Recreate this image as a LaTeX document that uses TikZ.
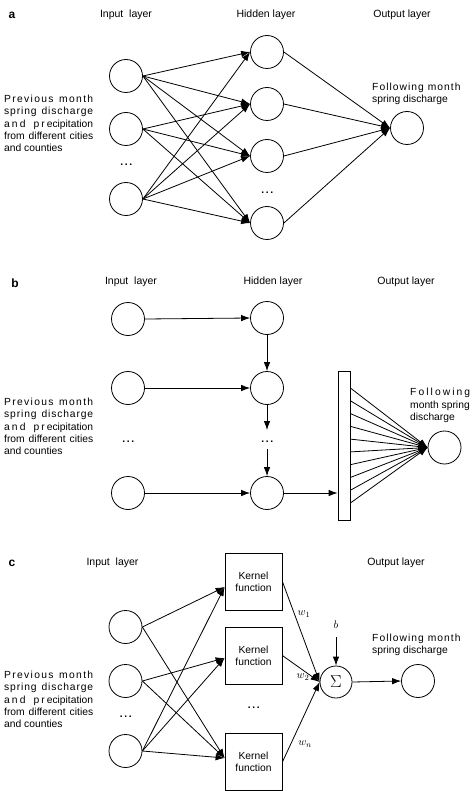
\documentclass[tikz,border=0pt]{standalone}
\usepackage{fontspec}
\setmainfont{Liberation Sans}
\usetikzlibrary{arrows.meta,calc}
\newcommand{\prevtxt}{%
 \makebox[89pt][s]{\addfontfeature{LetterSpace=13}Previous month}\\
 \makebox[89pt][s]{\addfontfeature{LetterSpace=8.5}spring discharge}\\
 \makebox[89pt][s]{{\addfontfeature{LetterSpace=20}and pre}cipitation}\\
 \makebox[89pt][s]{from different cities}\\
 and counties}
\newcommand{\mydots}{\hspace*{0.8pt}{\addfontfeature{LetterSpace=16}...}}
\begin{document}
\begin{tikzpicture}[x=1pt,y=-1pt,
  neuron/.style={circle,draw,line width=0.8pt,minimum size=33pt,inner sep=0pt},
  kbox/.style={draw,line width=0.8pt,minimum width=57pt,minimum height=57pt,inner sep=0pt,align=center,font=\fontsize{10.3}{12}\selectfont},
  conn/.style={line width=0.8pt,-{Latex[length=9pt,width=6.5pt]}},
  lbl/.style={font=\fontsize{10.5}{12.3}\selectfont,inner sep=0pt},
  txt/.style={font=\fontsize{10.3}{12.3}\selectfont,inner sep=0pt,align=left,anchor=north west},
  panel/.style={font=\bfseries\fontsize{12}{12}\selectfont,inner sep=0pt},
  dots/.style={font=\bfseries\fontsize{10.3}{12}\selectfont,inner sep=0pt}
]
\useasboundingbox (0,0) rectangle (474,791);

% ---------------- panel a ----------------
\node[panel] (la) at (12,15) {a};
\node[lbl] (ia) at (126,15) {Input\ \ layer};
\node[lbl] (ha) at (266,15) {Hidden layer};
\node[lbl] (oa) at (402,15) {Output layer};
\node[txt] (pa) at (4,95) {\prevtxt};
\node[txt] (fa) at (372,83) {{\addfontfeature{LetterSpace=10}Following month}\\spring discharge};
\node[neuron] (a1) at (126,76) {};
\node[neuron] (a2) at (126,129) {};
\node[neuron] (a3) at (126,199) {};
\node[dots] (ad) at (126,165) {\mydots};
\node[neuron] (ah1) at (267,52) {};
\node[neuron] (ah2) at (267,104) {};
\node[neuron] (ah3) at (267,156) {};
\node[neuron] (ah4) at (267,223) {};
\node[dots] (ahd) at (267,193) {\mydots};
\node[neuron] (ao) at (407,128) {};
\foreach \j in {ah1,ah2,ah3,ah4} {
  \draw[conn] (a1.east) -- (\j.west);
  \draw[conn] (a3.east) -- (\j.west);
  \draw[conn] (\j.east) -- (ao.west);
}
\foreach \j in {ah2,ah3,ah4} \draw[conn] (a2.east) -- (\j.west);

% ---------------- panel b ----------------
\node[panel] (lb) at (15,283) {b};
\node[lbl] (ib) at (131,282) {Input\ \ layer};
\node[lbl] (hb) at (273,282) {Hidden layer};
\node[lbl] (ob) at (406,282) {Output layer};
\node[txt] (pb) at (4,398) {\prevtxt};
\node[txt] (fb) at (410,388) {{\addfontfeature{LetterSpace=20}Following}\\[0.6pt]month spring\\discharge};
\node[neuron] (b1) at (128,319) {};
\node[neuron] (b2) at (128,388) {};
\node[neuron] (b3) at (128,493) {};
\node[dots] (bd) at (128,442) {\mydots};
\node[neuron] (bh1) at (267,318) {};
\node[neuron] (bh2) at (267,388) {};
\node[neuron] (bh4) at (267,493) {};
\node[dots] (bhd) at (267,442) {\mydots};
\node[draw,line width=0.8pt,minimum width=12pt,minimum height=149pt,inner sep=0pt] (bar) at (344,445.5) {};
\node[neuron] (bo) at (444.5,447.5) {};
\draw[conn] (b1.east) -- (bh1.west);
\draw[conn] (b2.east) -- (bh2.west);
\draw[conn] (b3.east) -- (bh4.west);
\draw[conn] (bh1.south) -- (bh2.north);
\draw[conn] (bh2.south) -- ($(bhd.center)+(0,-12)$);
\draw[conn] ($(bhd.center)+(0,7)$) -- (bh4.north);
\draw[conn] (bh4.east) -- (bh4.east -| bar.west);
\foreach \k in {0,...,9} \draw[conn] ($(bar.east)+(0,{-57.5+\k*12.78})$) -- (bo.west);

% ---------------- panel c ----------------
\node[panel] (lc) at (12,563) {c};
\node[lbl] (ic) at (112.5,563) {Input\ \ layer};
\node[lbl] (oc) at (396,563) {Output layer};
\node[txt] (pc) at (4,671) {\prevtxt};
\node[txt] (fc) at (372,634) {{\addfontfeature{LetterSpace=10}Following month}\\spring discharge};
\node[neuron] (c1) at (125.5,627) {};
\node[neuron] (c2) at (125.5,681) {};
\node[neuron] (c3) at (125.5,751) {};
\node[dots] (cd) at (125.5,717) {\mydots};
\node[kbox] (k1) at (253.5,581.5) {Kernel\\function};
\node[kbox] (k2) at (253.5,655.5) {Kernel\\function};
\node[kbox] (k3) at (253.5,762) {Kernel\\function};
\node[dots] (kd) at (253.5,708) {\mydots};
\node[neuron,minimum size=32pt] (sig) at (336,682) {\fontsize{16}{16}\selectfont$\Sigma$};
\node[neuron] (co) at (418,681) {};
\node[inner sep=0pt,font=\fontsize{11}{11}\selectfont] (bl) at (336,625) {$b$};
\coordinate (bt) at (336,637);
\node[inner sep=0pt,font=\fontsize{11}{11}\selectfont] (w1) at (304,614) {$w_1$};
\node[inner sep=0pt,font=\fontsize{11}{11}\selectfont] (w2) at (303,677) {$w_2$};
\node[inner sep=0pt,font=\fontsize{11}{11}\selectfont] (wn) at (305,744) {$w_n$};
\draw[conn] (c1.east) -- ($(k1.west)+(0,5.5)$);
\draw[conn] (c3.east) -- ($(k1.west)+(0,5.5)$);
\draw[conn] (c2.east) -- ($(k2.west)+(0,2.5)$);
\draw[conn] (c3.east) -- ($(k2.west)+(0,2.5)$);
\draw[conn] (c1.east) -- ($(k3.west)+(0,-4)$);
\draw[conn] (c2.east) -- ($(k3.west)+(0,-4)$);
\draw[conn] (c3.east) -- ($(k3.west)+(0,-4)$);
\draw[conn] (k1.east) -- (sig.west);
\draw[conn] (k2.east) -- (sig.west);
\draw[conn] (k3.east) -- (sig.west);
\draw[conn] (bt) -- (sig.north);
\draw[conn] (sig.east) -- (co.west);
\end{tikzpicture}
\end{document}
